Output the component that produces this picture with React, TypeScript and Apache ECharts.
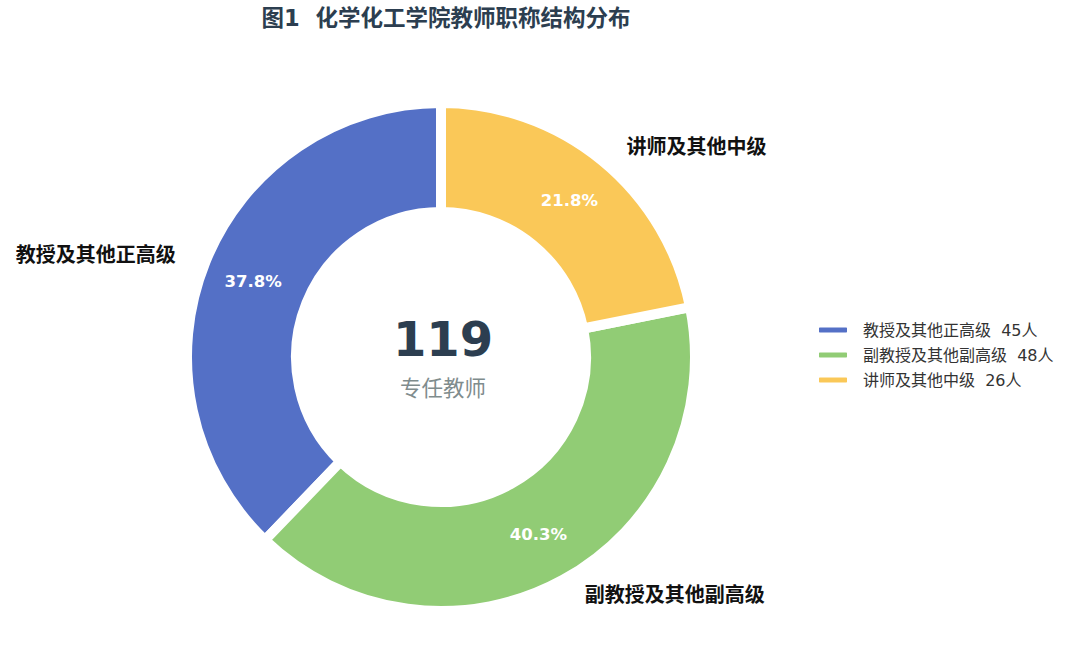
import React, { useEffect, useRef } from "react";
import * as echarts from "echarts";

const categories = ["教授及其他正高级", "副教授及其他副高级", "讲师及其他中级"];
const values = [45, 48, 26];
const colors = ["#5470c6", "#91cc75", "#fac858"];
const titleText = "图1  化学化工学院教师职称结构分布";
const centerValue = "119";
const centerLabel = "专任教师";

const FONT = "'DejaVu Sans', 'Noto Sans CJK SC', sans-serif";

export default function App() {
  const ref = useRef<HTMLDivElement>(null);
  useEffect(() => {
    if (!ref.current) return;
    const chart = echarts.init(ref.current, null, { renderer: "svg" });
    const total = values.reduce((a, b) => a + b, 0);
    const data = categories.map((name, i) => ({
      name,
      value: values[i],
      itemStyle: { color: colors[i] },
    }));
    const cx = 441;
    const cy = 357;
    chart.setOption({
      animation: false,
      textStyle: { fontFamily: FONT },
      title: {
        text: titleText,
        left: cx,
        top: 2,
        textAlign: "center",
        textStyle: { fontSize: 22.5, fontWeight: "bold", color: "#2c3e50", fontFamily: FONT },
      },
      legend: {
        orient: "vertical",
        left: 812,
        top: 317,
        icon: "roundRect",
        itemWidth: 30,
        itemHeight: 7,
        itemGap: 9,
        data: categories,
        formatter: (name: string) => {
          const i = categories.indexOf(name);
          return `${name}  ${values[i]}人`;
        },
        textStyle: { fontSize: 16, color: "#333", fontFamily: FONT, padding: [0, 0, 0, 10] },
      },
      graphic: [
        {
          type: "text",
          style: {
            text: centerValue,
            x: cx + 2,
            y: 339,
            align: "center",
            verticalAlign: "middle",
            fontSize: 48,
            fontWeight: "bold",
            fill: "#2c3e50",
            fontFamily: FONT,
          },
        },
        {
          type: "text",
          style: {
            text: centerLabel,
            x: cx + 2,
            y: 388,
            align: "center",
            verticalAlign: "middle",
            fontSize: 21.5,
            fill: "#7f8c8d",
            fontFamily: FONT,
          },
        },
      ],
      series: [
        {
          type: "pie",
          center: [cx, cy],
          radius: [145, 254],
          startAngle: 90,
          clockwise: false,
          avoidLabelOverlap: false,
          itemStyle: { borderColor: "#fff", borderWidth: 10 },
          label: {
            show: true,
            position: "outside",
            formatter: "{b}",
            fontSize: 20,
            fontWeight: "bold",
            color: "#111",
            fontFamily: FONT,
          },
          labelLine: { show: false, length: 18, length2: 8 },
          emphasis: { disabled: true },
          data,
        },
        {
          type: "pie",
          center: [cx, cy],
          radius: [145, 254],
          startAngle: 90,
          clockwise: false,
          silent: true,
          avoidLabelOverlap: false,
          itemStyle: { color: "transparent", borderWidth: 0 },
          label: {
            show: true,
            position: "inside",
            formatter: (p: any) => `${((p.value / total) * 100).toFixed(1)}%`,
            fontSize: 16.5,
            fontWeight: "bold",
            color: "#fff",
            fontFamily: FONT,
          },
          labelLine: { show: false },
          emphasis: { disabled: true },
          data: categories.map((name, i) => ({ name, value: values[i], itemStyle: { color: "transparent" } })),
        },
      ],
    });
    return () => chart.dispose();
  }, []);
  return (
    <div
      ref={ref}
      style={{ position: "fixed", left: 0, top: 0, width: 1080, height: 670, background: "#fff" }}
    />
  );
}
